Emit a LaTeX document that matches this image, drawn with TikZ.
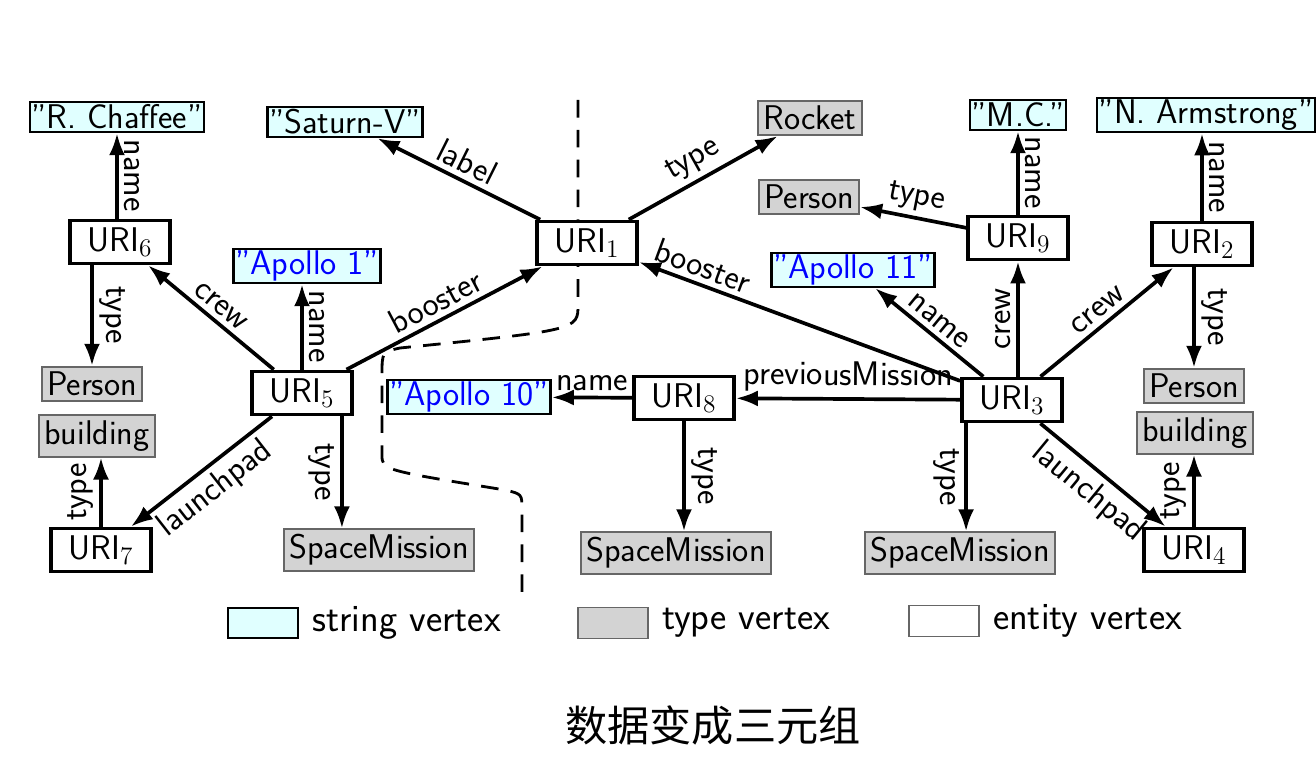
\documentclass[tikz,border=0pt]{standalone}
\usepackage{fontspec}
\newfontfamily\cjk{Noto Sans CJK SC}
\usetikzlibrary{arrows.meta}
\definecolor{strfill}{RGB}{224,255,255}
\definecolor{typefill}{RGB}{211,211,211}
\begin{document}
\begin{tikzpicture}[x=0.02cm,y=-0.02cm,
    font=\sffamily\fontsize{19.5}{23}\selectfont,
    strv/.style={draw,line width=1.4pt,fill=strfill,inner sep=1pt,minimum height=0.6cm},
    typev/.style={draw=black!60,line width=1pt,fill=typefill,inner sep=3pt,minimum height=0.62cm},
    entv/.style={draw,line width=2.2pt,fill=white,minimum width=2cm,minimum height=0.86cm},
    rel/.style={line width=2.1pt,-{Latex[length=0.44cm,width=0.32cm]}},
    lbl/.style={sloped,inner sep=3pt},
    vlbl/.style={rotate=-90,inner sep=3pt}]
    \useasboundingbox (0,0) rectangle (1316,766);

    % Separator
    \draw[line width=1.6pt,dash pattern=on 10pt off 7pt] (578,100) -- (578,305)
        .. controls (578,330) .. (400,348) .. controls (382,352) .. (382,375)
        -- (382,455) .. controls (382,470) .. (505,490) .. controls (522,494) .. (522,510) -- (522,602);

    % Entity vertices
    \node[entv] (uri1) at (587,243) {URI$_1$};
    \node[entv] (uri2) at (1202,244) {URI$_2$};
    \node[entv] (uri3) at (1012,400) {URI$_3$};
    \node[entv] (uri4) at (1194,550) {URI$_4$};
    \node[entv] (uri5) at (302,393) {URI$_5$};
    \node[entv] (uri6) at (120,242) {URI$_6$};
    \node[entv] (uri7) at (101,550) {URI$_7$};
    \node[entv] (uri8) at (684,398) {URI$_8$};
    \node[entv] (uri9) at (1018,238) {URI$_9$};

    % String vertices
    \node[strv] (chaffee) at (117,117) {''R. Chaffee''};
    \node[strv] (saturn) at (345,122) {''Saturn-V''};
    \node[strv] (mc) at (1018,115) {''M.C.''};
    \node[strv] (armstrong) at (1206,115) {''N. Armstrong''};
    \node[strv,text=blue] (apollo1) at (307,266) {''Apollo 1''};
    \node[strv,text=blue] (apollo11) at (853,270) {''Apollo 11''};
    \node[strv,text=blue] (apollo10) at (469,397) {''Apollo 10''};

    % Type vertices
    \node[typev] (rocket) at (810,118) {Rocket};
    \node[typev] (person1) at (809,197) {Person};
    \node[typev] (person2) at (92,384) {Person};
    \node[typev] (person3) at (1194,386) {Person};
    \node[typev] (build1) at (97,436) {building};
    \node[typev] (build2) at (1195,433) {building};
    \node[typev] (mission1) at (379,550) {SpaceMission};
    \node[typev] (mission2) at (676,553) {SpaceMission};
    \node[typev] (mission3) at (960,553) {SpaceMission};

    % Edges
    \draw[rel] (uri1) -- node[lbl,above] {label} (saturn);
    \draw[rel] (uri1) -- node[lbl,above] {type} (rocket);
    \draw[rel] (uri6.north -| chaffee.south) -- node[vlbl,above] {name} (chaffee);
    \draw[rel] (uri6.south -| person2.north) -- node[lbl,above] {type} (person2);
    \draw[rel] (uri5) -- node[lbl,above] {crew} (uri6);
    \draw[rel] (uri5.north) -- node[vlbl,above] {name} (uri5.north |- apollo1.south);
    \draw[rel] (uri5) -- node[lbl,above] {booster} (uri1);
    \draw[rel] (uri5) -- node[lbl,below] {launchpad} (uri7);
    \draw[rel] ([xshift=-0.24cm]uri5.south east) -- node[lbl,below] {type} ([xshift=-0.24cm]uri5.south east |- mission1.north);
    \draw[rel] (uri7) -- node[lbl,above] {type} (uri7 |- build1.south);
    \draw[rel] (uri8) -- node[lbl,above] {name} (apollo10);
    \draw[rel] (uri8) -- node[lbl,above] {type} (uri8 |- mission2.north);
    \draw[rel] (uri3) -- node[lbl,above] {previousMission} (uri8);
    \draw[rel] (uri3) -- node[lbl,above,pos=0.82] {booster} (uri1);
    \draw[rel] (uri3) -- node[lbl,above] {name} (apollo11);
    \draw[rel] (uri3.north -| uri9.south) -- node[lbl,above] {crew} (uri9);
    \draw[rel] (uri3) -- node[lbl,above] {crew} (uri2);
    \draw[rel] ([xshift=0.12cm]uri3.south west) -- node[lbl,below] {type} ([xshift=0.12cm]uri3.south west |- mission3.north);
    \draw[rel] (uri3) -- node[lbl,below] {launchpad} (uri4);
    \draw[rel] (uri9) -- node[lbl,above] {type} (person1);
    \draw[rel] (uri9) -- node[vlbl,above] {name} (mc);
    \draw[rel] (uri2) -- node[vlbl,above] {name} (uri2 |- armstrong.south);
    \draw[rel] (uri2.south -| person3.north) -- node[lbl,above] {type} (person3);
    \draw[rel] (uri4) -- node[lbl,above] {type} (uri4 |- build2.south);

    % Legend
    \node[strv,minimum width=1.4cm] (legstr) at (263,623) {};
    \node[right=4pt] at (legstr.east) {\fontsize{22}{26}\selectfont string vertex};
    \node[typev,minimum width=1.4cm] (legtype) at (613,623) {};
    \node[right=4pt] at (legtype.east) {\fontsize{22}{26}\selectfont type vertex};
    \node[draw=black!60,line width=1pt,minimum width=1.4cm,minimum height=0.62cm] (legent) at (944,621) {};
    \node[right=4pt] at (legent.east) {\fontsize{22}{26}\selectfont entity vertex};

    \node (caption) at (713,725) {\cjk\fontsize{24}{28}\selectfont 数据变成三元组};
\end{tikzpicture}
\end{document}
